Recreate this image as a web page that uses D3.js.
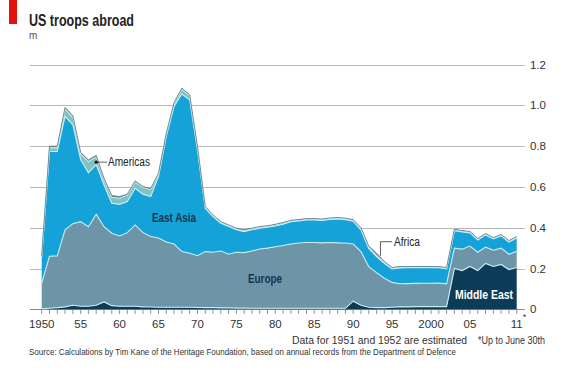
<!DOCTYPE html>
<html><head><meta charset="utf-8">
<script src="https://cdn.jsdelivr.net/npm/d3@7"></script>
<style>
body{margin:0;background:#fff}
svg{display:block}
text{font-family:"Liberation Sans Narrow","Liberation Sans",Arial,sans-serif}
</style>
</head><body>
<svg id="c" width="570" height="370"></svg>
<script>
const years = [1950,1951,1952,1953,1954,1955,1956,1957,1958,1959,
  1960,1961,1962,1963,1964,1965,1966,1967,1968,1969,
  1970,1971,1972,1973,1974,1975,1976,1977,1978,1979,
  1980,1981,1982,1983,1984,1985,1986,1987,1988,1989,
  1990,1991,1992,1993,1994,1995,1996,1997,1998,1999,
  2000,2001,2002,2003,2004,2005,2006,2007,2008,2009,2010,2011];
const middleEast = [.002,.005,.008,.012,.02,.015,.015,.02,.036,.018,
  .015,.015,.015,.012,.011,.01,.01,.01,.01,.01,
  .009,.008,.008,.007,.007,.006,.006,.005,.005,.005,
  .005,.005,.005,.005,.005,.005,.005,.005,.005,.005,
  .04,.02,.01,.008,.008,.01,.012,.012,.013,.013,
  .013,.013,.013,.20,.19,.21,.19,.225,.21,.22,.195,.205];
const europe = [.126,.255,.254,.378,.40,.415,.39,.446,.369,.355,
  .345,.361,.399,.364,.346,.34,.32,.31,.273,.265,
  .254,.275,.272,.279,.263,.274,.272,.281,.291,.295,
  .302,.308,.315,.32,.323,.323,.321,.323,.321,.32,
  .28,.263,.199,.172,.144,.122,.113,.114,.114,.115,
  .115,.116,.112,.10,.105,.10,.09,.08,.08,.08,.075,.08];
const eastAsia = [.127,.514,.512,.556,.485,.305,.265,.244,.205,.147,
  .155,.153,.18,.189,.196,.301,.518,.675,.773,.753,
  .519,.213,.175,.136,.136,.11,.103,.104,.102,.103,
  .102,.104,.11,.108,.11,.11,.11,.113,.117,.115,
  .112,.106,.09,.078,.073,.066,.078,.078,.077,.076,
  .076,.075,.073,.085,.085,.065,.06,.06,.055,.06,.06,.065];
const americas = [.005,.018,.018,.036,.037,.027,.055,.037,.025,.03,
  .03,.031,.031,.032,.035,.012,.011,.015,.024,.019,
  .015,.005,.005,.005,.005,.005,.006,.005,.005,.004,
  .005,.006,.004,.004,.004,.004,.004,.004,.004,.004,
  .005,.007,.005,.005,.005,.005,.005,.004,.004,.004,
  .004,.004,.005,.006,.004,.005,.005,.005,.005,.005,.005,.005];
const africa = [.002,.008,.008,.008,.008,.008,.008,.008,.008,.008,
  .008,.005,.005,.005,.005,.005,.005,.005,.005,.005,
  .003,.003,.003,.003,.003,.003,.003,.003,.003,.003,
  .003,.003,.003,.003,.003,.003,.003,.003,.003,.003,
  .003,.004,.006,.012,.005,.002,.002,.002,.002,.002,
  .002,.002,.002,.002,.002,.002,.002,.002,.002,.002,.002,.002];
const seriesKeys = ["Middle East","Europe","East Asia","Americas","Africa"];
const yTicks = [0,0.2,0.4,0.6,0.8,1.0,1.2];
const yTickLabels = ["0","0.2","0.4","0.6","0.8","1.0","1.2"];
const xTickYears = [1950,1955,1960,1965,1970,1975,1980,1985,1990,1995,2000,2005,2011];
const xTickLabels = ["1950","55","60","65","70","75","80","85","90","95","2000","05","11"];

const colors = {"Middle East":"#0c3c58","Europe":"#6d94a7","East Asia":"#15a2d8","Americas":"#80c2c1","Africa":"#6d8587"};

const rows = years.map((yr,i)=>({year:yr,"Middle East":middleEast[i],"Europe":europe[i],"East Asia":eastAsia[i],"Americas":americas[i],"Africa":africa[i]}));
const stacked = d3.stack().keys(seriesKeys)(rows);

const svg = d3.select("#c");
const x = d3.scaleLinear().domain([1950,2011]).range([41.7,516.7]);
const y = d3.scaleLinear().domain([0,1.2]).range([309.3,64.7]);

function txt(xp, yp, s, size, opts={}) {
  const t = svg.append("text").attr("x",xp).attr("y",yp).attr("font-size",size)
    .attr("fill",opts.fill||"#333").text(s);
  if (opts.bold) t.attr("font-weight","bold");
  if (opts.anchor) t.attr("text-anchor",opts.anchor);
  if (opts.w) t.attr("textLength",opts.w).attr("lengthAdjust","spacingAndGlyphs");
  return t;
}

// title
svg.append("rect").attr("x",9).attr("y",0).attr("width",8).attr("height",24).attr("fill","#e3120b");
txt(29,26,"US troops abroad",17,{bold:true,fill:"#222",w:105});
txt(29,39,"m",10,{fill:"#555"});

// gridlines
svg.append("g").selectAll("line").data(yTicks).join("line")
  .attr("x1",30).attr("x2",525).attr("y1",d=>Math.round(y(d))+0.5).attr("y2",d=>Math.round(y(d))+0.5)
  .attr("stroke",d=>d===0?"#8a8a8a":"#b9b9b9").attr("stroke-width",1);
svg.append("g").selectAll("text").data(yTicks).join("text")
  .attr("x",530).attr("y",d=>y(d)+4).attr("font-size",11.5).attr("fill","#333")
  .text((d,i)=>yTickLabels[i]);

// areas
const area = d3.area().x(d=>x(d.data.year)).y0(d=>y(d[0])).y1(d=>y(d[1]));
const line = d3.line().x(d=>x(d.data.year)).y(d=>y(d[1]));
svg.append("g").selectAll("path").data(stacked).join("path")
  .attr("d",area).attr("fill",d=>colors[d.key]);
svg.append("g").selectAll("path").data(stacked).join("path")
  .attr("d",line).attr("fill","none")
  .attr("stroke",d=>d.key==="Africa"?"#5f7376":"#c9ecf5")
  .attr("stroke-width",d=>d.key==="Africa"?0.8:1.1);

// x axis ticks
const tg = svg.append("g");
tg.selectAll("line").data(years).join("line")
  .attr("x1",d=>x(d)).attr("x2",d=>x(d)).attr("y1",309.5).attr("y2",314)
  .attr("stroke","#777").attr("stroke-width",0.8);
tg.selectAll("text").data(xTickYears).join("text")
  .attr("x",d=>x(d)).attr("y",328).attr("text-anchor","middle").attr("font-size",11.5).attr("fill","#333")
  .text((d,i)=>xTickLabels[i]);
txt(x(2011)+6,320,"*",9);

// labels
const amY = y(0.722);
svg.append("line").attr("x1",x(1957)).attr("x2",107).attr("y1",amY).attr("y2",amY).attr("stroke","#333").attr("stroke-width",0.8);
svg.append("circle").attr("cx",x(1957)).attr("cy",amY).attr("r",1.6).attr("fill","#111");
txt(108,amY+4,"Americas",12,{fill:"#222",w:42});
txt(174,222,"East Asia",12.5,{bold:true,fill:"#123650",anchor:"middle",w:44});
txt(265,283,"Europe",12.5,{bold:true,fill:"#123650",anchor:"middle",w:34});
svg.append("path").attr("d",`M${x(1993.5)},${y(0.262)}V241.7H392`).attr("fill","none").attr("stroke","#333").attr("stroke-width",0.8);
txt(394,246,"Africa",12,{fill:"#222",w:26});
txt(484,299,"Middle East",12.5,{bold:true,fill:"#fff",anchor:"middle",w:58});

// footnotes
txt(292,344,"Data for 1951 and 1952 are estimated",10,{w:175});
txt(545,344,"*Up to June 30th",10,{anchor:"end",w:67});
txt(29,355,"Source: Calculations by Tim Kane of the Heritage Foundation, based on annual records from the Department of Defence",9.5,{w:427});
</script>
</body></html>
